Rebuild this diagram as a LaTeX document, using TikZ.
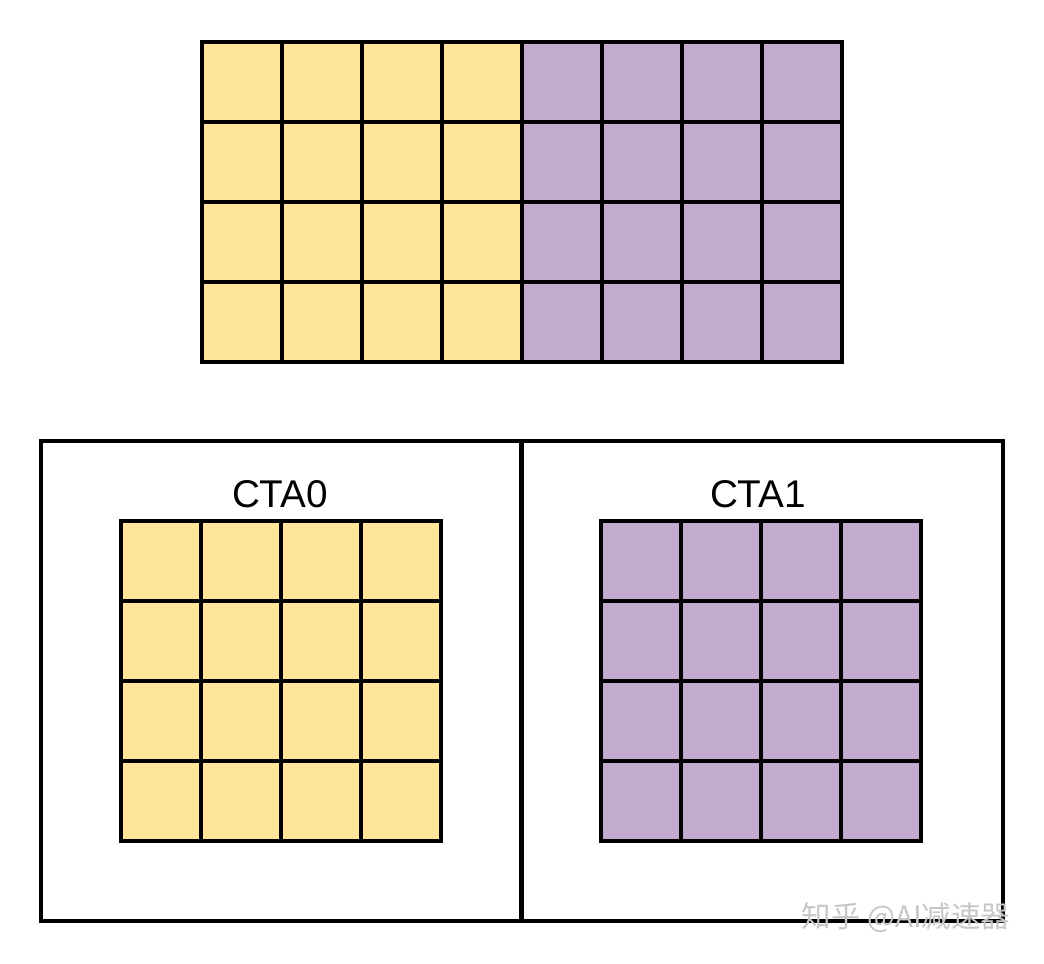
\documentclass[tikz,border=0pt]{standalone}
\usepackage{fontspec}
\setmainfont{Liberation Sans}
\newfontfamily\cjk{Noto Sans CJK SC}
\usepackage{tikz}
\usetikzlibrary{shapes, arrows}
\definecolor{tileyellow}{HTML}{FFE599}
\definecolor{tilepurple}{HTML}{C3ABD0}
\tikzset{
	tile/.style={rectangle, draw, line width=0.1cm, minimum size=2cm, inner sep=0pt, outer sep=0pt},
	ctabox/.style={rectangle, draw, line width=0.1cm, minimum width=12.025cm, minimum height=12cm, inner sep=0pt, outer sep=0pt}
}

\begin{document}
\begin{tikzpicture}[x=0.025cm, y=-0.025cm]
		\useasboundingbox (0,0) rectangle (1044,964);
		% whole tile, split in two halves
		\foreach \i in {0,...,7}
			\foreach \j in {0,...,3} {
				\pgfmathsetmacro{\fillc}{\i<4 ? "tileyellow" : "tilepurple"}
				\node at (242+80*\i, 82+80*\j) [tile, fill=\fillc] (T\i\j) {};
			}
		% the two CTAs
		\node at (281.5,681) [ctabox] (C0) {};
		\node at (762,681) [ctabox] (C1) {};
		\node at (280,494) (L0) {\fontsize{27.5}{32}\selectfont CTA0};
		\node at (758,494) (L1) {\fontsize{27.5}{32}\selectfont CTA1};
		\foreach \i in {0,...,3}
			\foreach \j in {0,...,3} {
				\node at (161+80*\i, 561+80*\j) [tile, fill=tileyellow] (A\i\j) {};
				\node at (641+80*\i, 561+80*\j) [tile, fill=tilepurple] (B\i\j) {};
			}
		\node at (906,918) [text=gray!45] (W) {\cjk\fontsize{21}{24}\selectfont 知乎 @AI减速器};
	\end{tikzpicture}
\end{document}
